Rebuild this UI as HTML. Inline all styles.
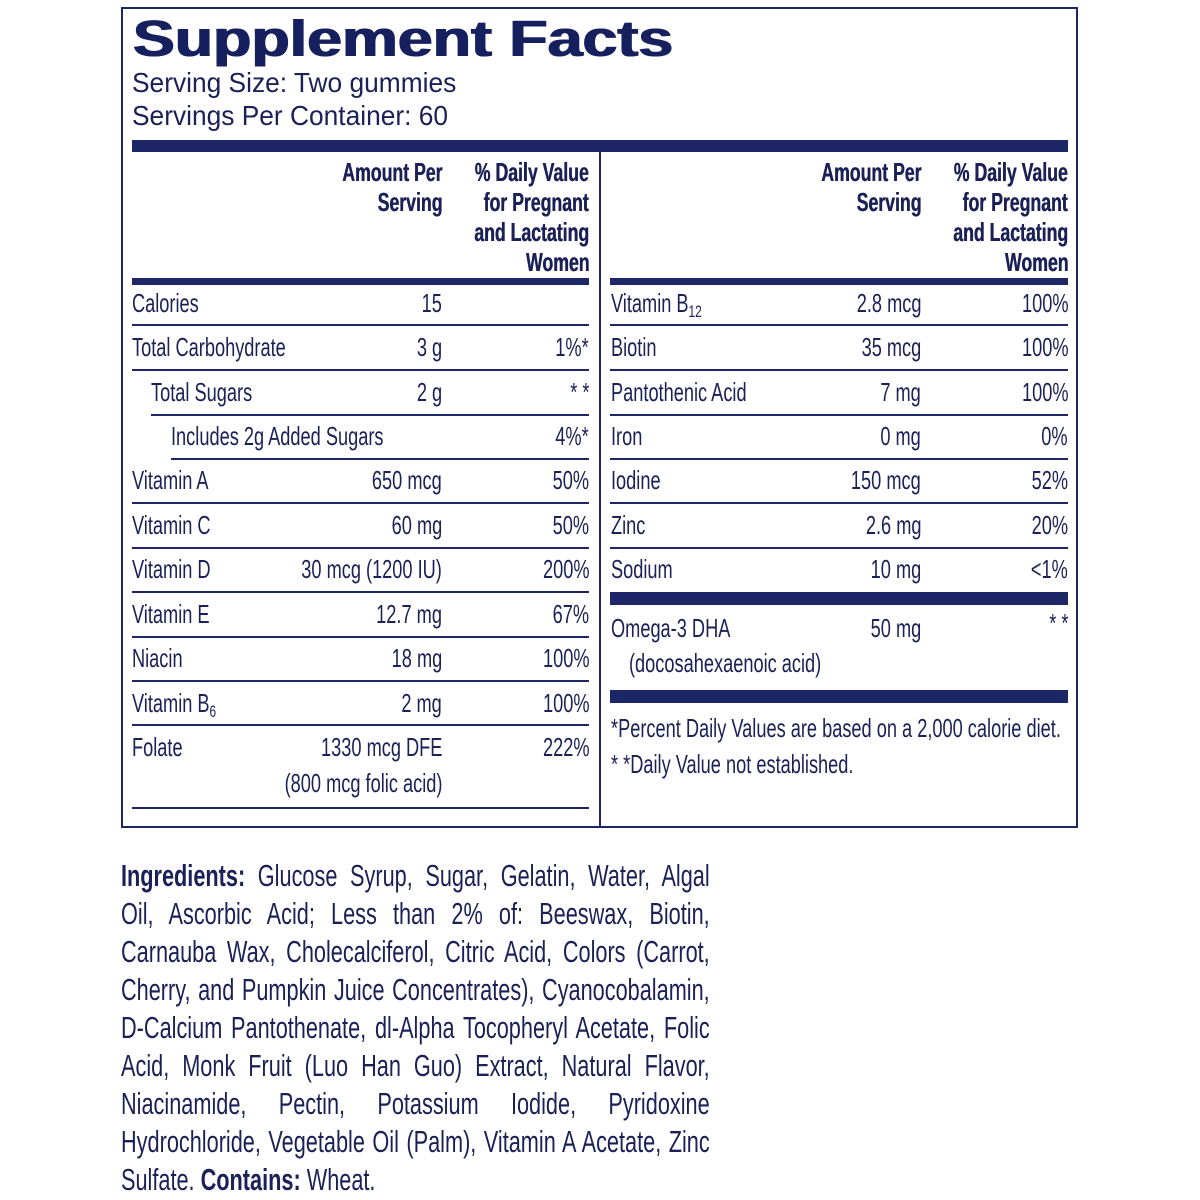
<!DOCTYPE html>
<html><head><meta charset="utf-8"><style>
body{margin:0;width:1200px;height:1200px;background:#fff;position:relative;overflow:hidden;font-family:"Liberation Sans",sans-serif;color:#1b2056}
.t{position:absolute;white-space:nowrap;font-size:26px;line-height:30px;height:30px;transform:scaleX(.7);transform-origin:left center}
.r{transform-origin:right center}
.b{font-weight:bold;text-shadow:0.6px 0 0 #1b2056}
.bar{position:absolute;background:#1d2667}
.ln{position:absolute;height:2px;background:#1d2667}
sub{font-size:17px;vertical-align:-5px;line-height:0}
.ing{position:absolute;left:121px;width:841px;font-size:31px;line-height:38px;height:38px;white-space:nowrap;transform:scaleX(.70);transform-origin:left center;text-align:justify;text-align-last:justify}
</style></head><body>
<div style="position:absolute;left:121px;top:7px;width:953px;height:817px;border:2px solid #1d2667"></div>
<div class="t b" style="left:132px;top:12px;font-size:51px;line-height:54px;height:54px;transform:scaleX(1.23);color:#16205e;text-shadow:1.5px 0 0 #16205e">Supplement Facts</div>
<div class="t" style="left:132px;top:68px;font-size:28px;transform:scaleX(.94)">Serving Size: Two gummies</div>
<div class="t" style="left:132px;top:101px;font-size:28px;transform:scaleX(.94)">Servings Per Container: 60</div>
<div class="bar" style="left:132px;top:140px;width:936px;height:12px"></div>
<div class="bar" style="left:599px;top:152px;width:2px;height:674px"></div>
<!-- headers -->
<div class="t b r" style="right:758px;top:157px;transform:scaleX(.68)">Amount Per</div>
<div class="t b r" style="right:758px;top:187px;transform:scaleX(.68)">Serving</div>
<div class="t b r" style="right:611px;top:157px;transform:scaleX(.68)">% Daily Value</div>
<div class="t b r" style="right:611px;top:187px;transform:scaleX(.68)">for Pregnant</div>
<div class="t b r" style="right:611px;top:217px;transform:scaleX(.68)">and Lactating</div>
<div class="t b r" style="right:611px;top:247px;transform:scaleX(.68)">Women</div>
<div class="t b r" style="right:279px;top:157px;transform:scaleX(.68)">Amount Per</div>
<div class="t b r" style="right:279px;top:187px;transform:scaleX(.68)">Serving</div>
<div class="t b r" style="right:132px;top:157px;transform:scaleX(.68)">% Daily Value</div>
<div class="t b r" style="right:132px;top:187px;transform:scaleX(.68)">for Pregnant</div>
<div class="t b r" style="right:132px;top:217px;transform:scaleX(.68)">and Lactating</div>
<div class="t b r" style="right:132px;top:247px;transform:scaleX(.68)">Women</div>
<div class="bar" style="left:132px;top:278px;width:457px;height:7px"></div>
<div class="bar" style="left:610px;top:278px;width:458px;height:7px"></div>
<!-- left rows -->
<div class="t" style="left:132px;top:288px">Calories</div><div class="t r" style="right:758px;top:288px">15</div>
<div class="ln" style="left:132px;top:324px;width:457px"></div>
<div class="t" style="left:132px;top:332px">Total Carbohydrate</div><div class="t r" style="right:758px;top:332px">3 g</div><div class="t r" style="right:611px;top:332px">1%*</div>
<div class="ln" style="left:132px;top:369px;width:457px"></div>
<div class="t" style="left:151px;top:377px">Total Sugars</div><div class="t r" style="right:758px;top:377px">2 g</div><div class="t r" style="right:611px;top:377px">* *</div>
<div class="ln" style="left:151px;top:414px;width:438px"></div>
<div class="t" style="left:171px;top:421px">Includes 2g Added Sugars</div><div class="t r" style="right:611px;top:421px">4%*</div>
<div class="ln" style="left:171px;top:458px;width:418px"></div>
<div class="t" style="left:132px;top:465px">Vitamin A</div><div class="t r" style="right:758px;top:465px">650 mcg</div><div class="t r" style="right:611px;top:465px">50%</div>
<div class="ln" style="left:132px;top:502px;width:457px"></div>
<div class="t" style="left:132px;top:510px">Vitamin C</div><div class="t r" style="right:758px;top:510px">60 mg</div><div class="t r" style="right:611px;top:510px">50%</div>
<div class="ln" style="left:132px;top:547px;width:457px"></div>
<div class="t" style="left:132px;top:554px">Vitamin D</div><div class="t r" style="right:758px;top:554px">30 mcg (1200 IU)</div><div class="t r" style="right:611px;top:554px">200%</div>
<div class="ln" style="left:132px;top:591px;width:457px"></div>
<div class="t" style="left:132px;top:599px">Vitamin E</div><div class="t r" style="right:758px;top:599px">12.7 mg</div><div class="t r" style="right:611px;top:599px">67%</div>
<div class="ln" style="left:132px;top:636px;width:457px"></div>
<div class="t" style="left:132px;top:643px">Niacin</div><div class="t r" style="right:758px;top:643px">18 mg</div><div class="t r" style="right:611px;top:643px">100%</div>
<div class="ln" style="left:132px;top:680px;width:457px"></div>
<div class="t" style="left:132px;top:688px">Vitamin B<sub>6</sub></div><div class="t r" style="right:758px;top:688px">2 mg</div><div class="t r" style="right:611px;top:688px">100%</div>
<div class="ln" style="left:132px;top:724px;width:457px"></div>
<div class="t" style="left:132px;top:732px">Folate</div><div class="t r" style="right:758px;top:732px">1330 mcg DFE</div><div class="t r" style="right:611px;top:732px">222%</div>
<div class="t r" style="right:758px;top:768px">(800 mcg folic acid)</div>
<div class="ln" style="left:132px;top:807px;width:457px"></div>
<!-- right rows -->
<div class="t" style="left:611px;top:288px">Vitamin B<sub>12</sub></div><div class="t r" style="right:279px;top:288px">2.8 mcg</div><div class="t r" style="right:132px;top:288px">100%</div>
<div class="ln" style="left:610px;top:324px;width:458px"></div>
<div class="t" style="left:611px;top:332px">Biotin</div><div class="t r" style="right:279px;top:332px">35 mcg</div><div class="t r" style="right:132px;top:332px">100%</div>
<div class="ln" style="left:610px;top:369px;width:458px"></div>
<div class="t" style="left:611px;top:377px">Pantothenic Acid</div><div class="t r" style="right:279px;top:377px">7 mg</div><div class="t r" style="right:132px;top:377px">100%</div>
<div class="ln" style="left:610px;top:414px;width:458px"></div>
<div class="t" style="left:611px;top:421px">Iron</div><div class="t r" style="right:279px;top:421px">0 mg</div><div class="t r" style="right:132px;top:421px">0%</div>
<div class="ln" style="left:610px;top:458px;width:458px"></div>
<div class="t" style="left:611px;top:465px">Iodine</div><div class="t r" style="right:279px;top:465px">150 mcg</div><div class="t r" style="right:132px;top:465px">52%</div>
<div class="ln" style="left:610px;top:502px;width:458px"></div>
<div class="t" style="left:611px;top:510px">Zinc</div><div class="t r" style="right:279px;top:510px">2.6 mg</div><div class="t r" style="right:132px;top:510px">20%</div>
<div class="ln" style="left:610px;top:547px;width:458px"></div>
<div class="t" style="left:611px;top:554px">Sodium</div><div class="t r" style="right:279px;top:554px">10 mg</div><div class="t r" style="right:132px;top:554px">&lt;1%</div>
<div class="bar" style="left:610px;top:592px;width:458px;height:13px"></div>
<div class="t" style="left:611px;top:613px">Omega-3 DHA</div><div class="t r" style="right:279px;top:613px">50 mg</div><div class="t r" style="right:132px;top:608px">* *</div>
<div class="t" style="left:629px;top:648px">(docosahexaenoic acid)</div>
<div class="bar" style="left:610px;top:690px;width:458px;height:13px"></div>
<div class="t" style="left:611px;top:713px">*Percent Daily Values are based on a 2,000 calorie diet.</div>
<div class="t" style="left:611px;top:749px">* *Daily Value not established.</div>
<!-- ingredients -->
<div class="ing" style="top:857px"><b>Ingredients:</b> Glucose Syrup, Sugar, Gelatin, Water, Algal</div>
<div class="ing" style="top:895px">Oil, Ascorbic Acid; Less than 2% of: Beeswax, Biotin,</div>
<div class="ing" style="top:933px">Carnauba Wax, Cholecalciferol, Citric Acid, Colors (Carrot,</div>
<div class="ing" style="top:971px">Cherry, and Pumpkin Juice Concentrates), Cyanocobalamin,</div>
<div class="ing" style="top:1009px">D-Calcium Pantothenate, dl-Alpha Tocopheryl Acetate, Folic</div>
<div class="ing" style="top:1047px">Acid, Monk Fruit (Luo Han Guo) Extract, Natural Flavor,</div>
<div class="ing" style="top:1085px">Niacinamide, Pectin, Potassium Iodide, Pyridoxine</div>
<div class="ing" style="top:1123px">Hydrochloride, Vegetable Oil (Palm), Vitamin A Acetate, Zinc</div>
<div class="ing" style="top:1161px;text-align-last:left">Sulfate. <b>Contains:</b> Wheat.</div>
</body></html>
